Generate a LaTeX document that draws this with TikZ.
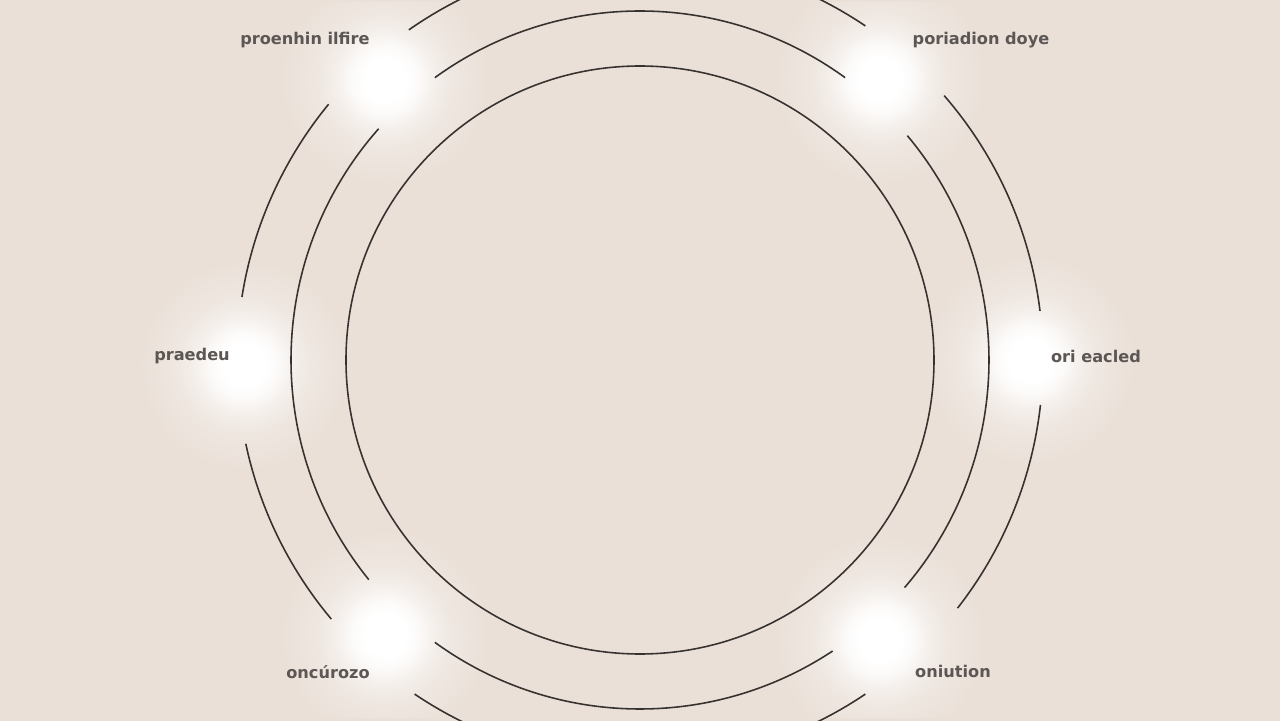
\documentclass[tikz,border=0pt]{standalone}
\usepackage{fontspec}
\setmainfont{DejaVu Sans}
\definecolor{bgc}{RGB}{234,224,216}
\definecolor{ringc}{RGB}{55,50,48}
\definecolor{labc}{RGB}{92,86,84}
\pgfdeclareradialshading{glow}{\pgfpoint{0bp}{0bp}}{%
  color(0bp)=(white); color(5bp)=(white); color(8bp)=(white!85!bgc);
  color(11bp)=(white!55!bgc); color(16bp)=(white!22!bgc); color(25bp)=(bgc);
  color(50bp)=(bgc)}
\tikzset{
  ring/.style={draw=ringc,line width=0.9pt},
  lab/.style={text=labc,font=\bfseries\fontsize{9.2}{11}\selectfont},
  dot/.style={inner sep=0pt,minimum size=0pt}
}
\begin{document}
\begin{tikzpicture}
        \useasboundingbox (-12.8,-7.2) rectangle (12.8,7.2) ;
        \fill[bgc] (-13,-7.4) rectangle (13,7.4) ;
        % glowing points
        \begin{scope}
        \clip (-12.8,-7.14) rectangle (12.8,7.14) ;
        \foreach \n/\p in {tl/{(-5.10,5.60)},tr/{(4.80,5.62)},l/{(-7.92,-0.10)},
                           r/{(7.80,0)},bl/{(-5.10,-5.50)},br/{(4.80,-5.60)}}
          {\shade[shading=glow] \p circle (2.1) ;
           \node[dot] (\n) at \p {} ;}
        \end{scope}
        % inner circle
        \draw[ring] (0,0) circle (5.88) ;
        % middle ring
        \draw[ring] (-40.7:6.98) arc[start angle=-40.7,end angle=40,radius=6.98] ;
        \draw[ring] (54:6.98) arc[start angle=54,end angle=126,radius=6.98] ;
        \draw[ring] (138.5:6.98) arc[start angle=138.5,end angle=219,radius=6.98] ;
        \draw[ring] (234:6.98) arc[start angle=234,end angle=303.5,radius=6.98] ;
        % outer ring
        \draw[ring] (7:8.06) arc[start angle=7,end angle=41,radius=8.06] ;
        \draw[ring] (56:8.06) arc[start angle=56,end angle=125,radius=8.06] ;
        \draw[ring] (140.6:8.06) arc[start angle=140.6,end angle=171,radius=8.06] ;
        \draw[ring] (192:8.06) arc[start angle=192,end angle=220,radius=8.06] ;
        \draw[ring] (236:8.06) arc[start angle=236,end angle=304,radius=8.06] ;
        \draw[ring] (322:8.06) arc[start angle=322,end angle=353.6,radius=8.06] ;
        % labels
        \node[lab] (tl label) at (-6.70,6.40) {proenhin ilfire} ;
        \node[lab] (tr label) at (6.82,6.40) {poriadion doye} ;
        \node[lab] (l label) at (-8.96,0.08) {praedeu} ;
        \node[lab] (r label) at (9.12,0.08) {ori eacled} ;
        \node[lab] (bl label) at (-6.24,-6.24) {oncúrozo} ;
        \node[lab] (br label) at (6.26,-6.22) {oniution} ;
      \end{tikzpicture}
\end{document}
